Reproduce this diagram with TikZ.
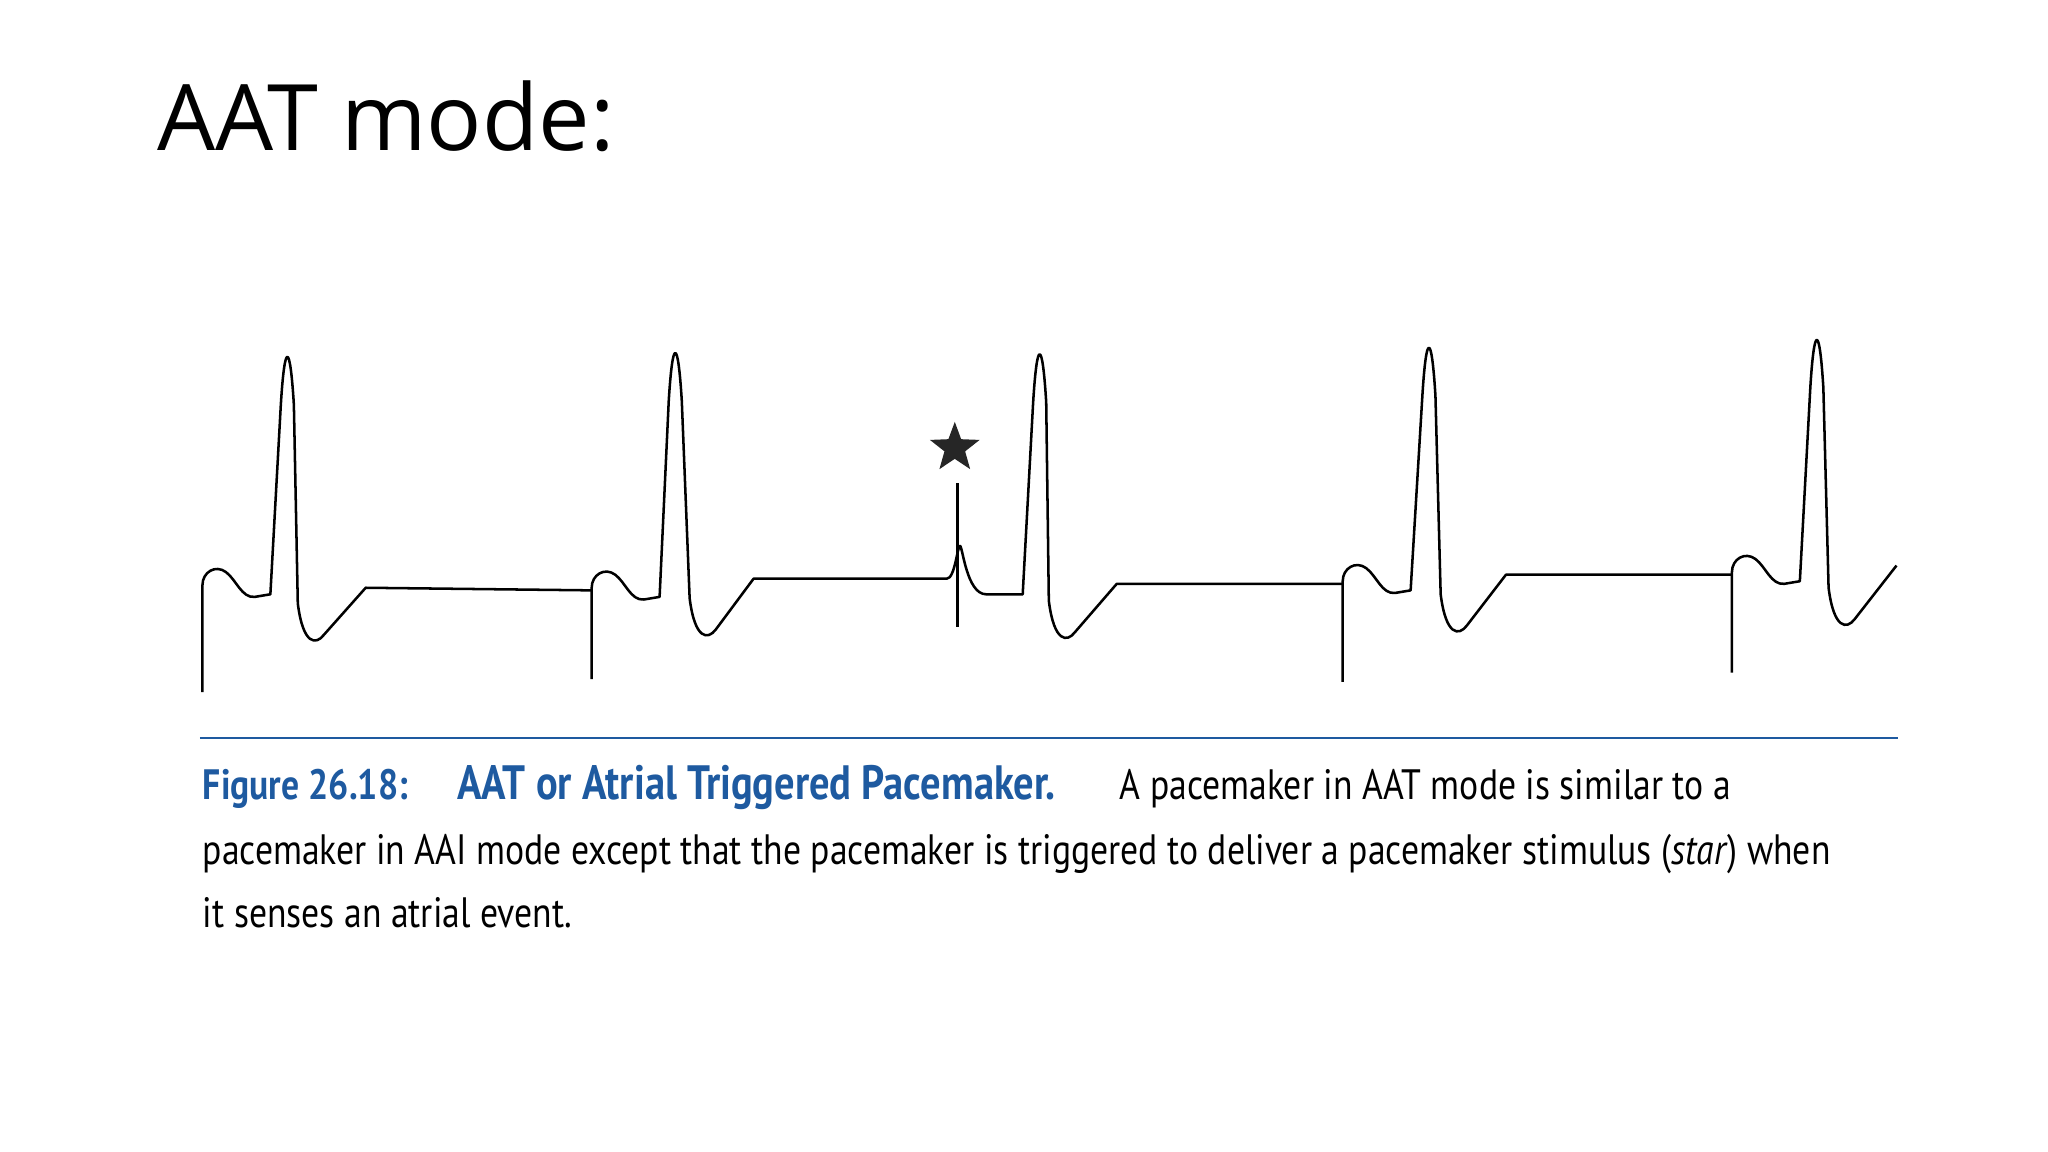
\documentclass[tikz,border=0pt]{standalone}
\usepackage{fontspec}
\setmainfont{Open Sans}
\newfontfamily\capfont[FakeStretch=0.84]{PT Sans}
\usetikzlibrary{shapes.geometric}
\definecolor{figblue}{RGB}{30,90,160}
\newcommand\qrs[6]{-- (#1-5,#2+45) .. controls (#1-2,#2-4) and (#1+2,#2-4) .. (#1+5,#2+45) -- (#3-12,#4-30) .. controls (#3-8,#4+2) and (#3+2,#4+2) .. (#3+8,#4-6) -- (#5,#6)}
\newcommand\pw[2]{(#1,#2) .. controls (#1,#2-10) and (#1+10,#2-16) .. (#1+18,#2-10) .. controls (#1+26,#2-4) and (#1+30,#2+10) .. (#1+40,#2+9) -- (#1+52,#2+7)}
\newcommand\ecgdraw[1]{\edef\ecgtmp{\noexpand\draw[ecg] #1;}\ecgtmp}
\begin{document}
\begin{tikzpicture}[x=0.2mm,y=-0.2mm,ecg/.style={line width=1.1pt,line join=round}]
\useasboundingbox (0,0) rectangle (1568,882);
\node[anchor=base west,inner sep=0,font=\fontsize{40}{48}\selectfont] (title) at (120,115) {AAT mode:};
% beats
\ecgdraw{(155,530) -- \pw{155}{448} \qrs{220}{265}{240}{492}{280}{450} -- (453,452)}
\ecgdraw{(453,520) -- \pw{453}{450} \qrs{517}{262}{540}{488}{577}{443} -- (725,443)
  .. controls (731,443) and (733,418) .. (735,418) .. controls (737,418) and (740,455) .. (755,455) -- (783,455)
  \qrs{796}{263}{815}{490}{855}{447} -- (1028,447)}
\draw[ecg] (733,370) -- (733,480);
\node[star,star points=5,star point ratio=2.4,fill=black!85,inner sep=0,minimum size=8mm] (star) at (731,343) {};
\ecgdraw{(1028,522) -- \pw{1028}{445} \qrs{1094}{258}{1115}{485}{1153}{440} -- (1326,440)}
\ecgdraw{(1326,515) -- \pw{1326}{438} \qrs{1391}{252}{1412}{480}{1452}{433}}
% rule
\draw[figblue,line width=1.2pt] (153,565) -- (1453,565);
\tikzset{captxt/.style={anchor=base west,inner sep=0,font=\capfont\fontsize{18.5}{22}\selectfont}}
\node[captxt,text=figblue] (c1) at (155,612) {\bfseries Figure 26.18:};
\node[captxt,text=figblue,font=\capfont\fontsize{21}{24}\selectfont\bfseries] (c2) at (350,612) {AAT or Atrial Triggered Pacemaker.};
\node[captxt] (c3) at (857,612) {A pacemaker in AAT mode is similar to a};
\node[captxt] (c4) at (155,662) {pacemaker in AAI mode except that the pacemaker is triggered to deliver a pacemaker stimulus (\textit{star}) when};
\node[captxt] (c5) at (155,710) {it senses an atrial event.};
\end{tikzpicture}
\end{document}
